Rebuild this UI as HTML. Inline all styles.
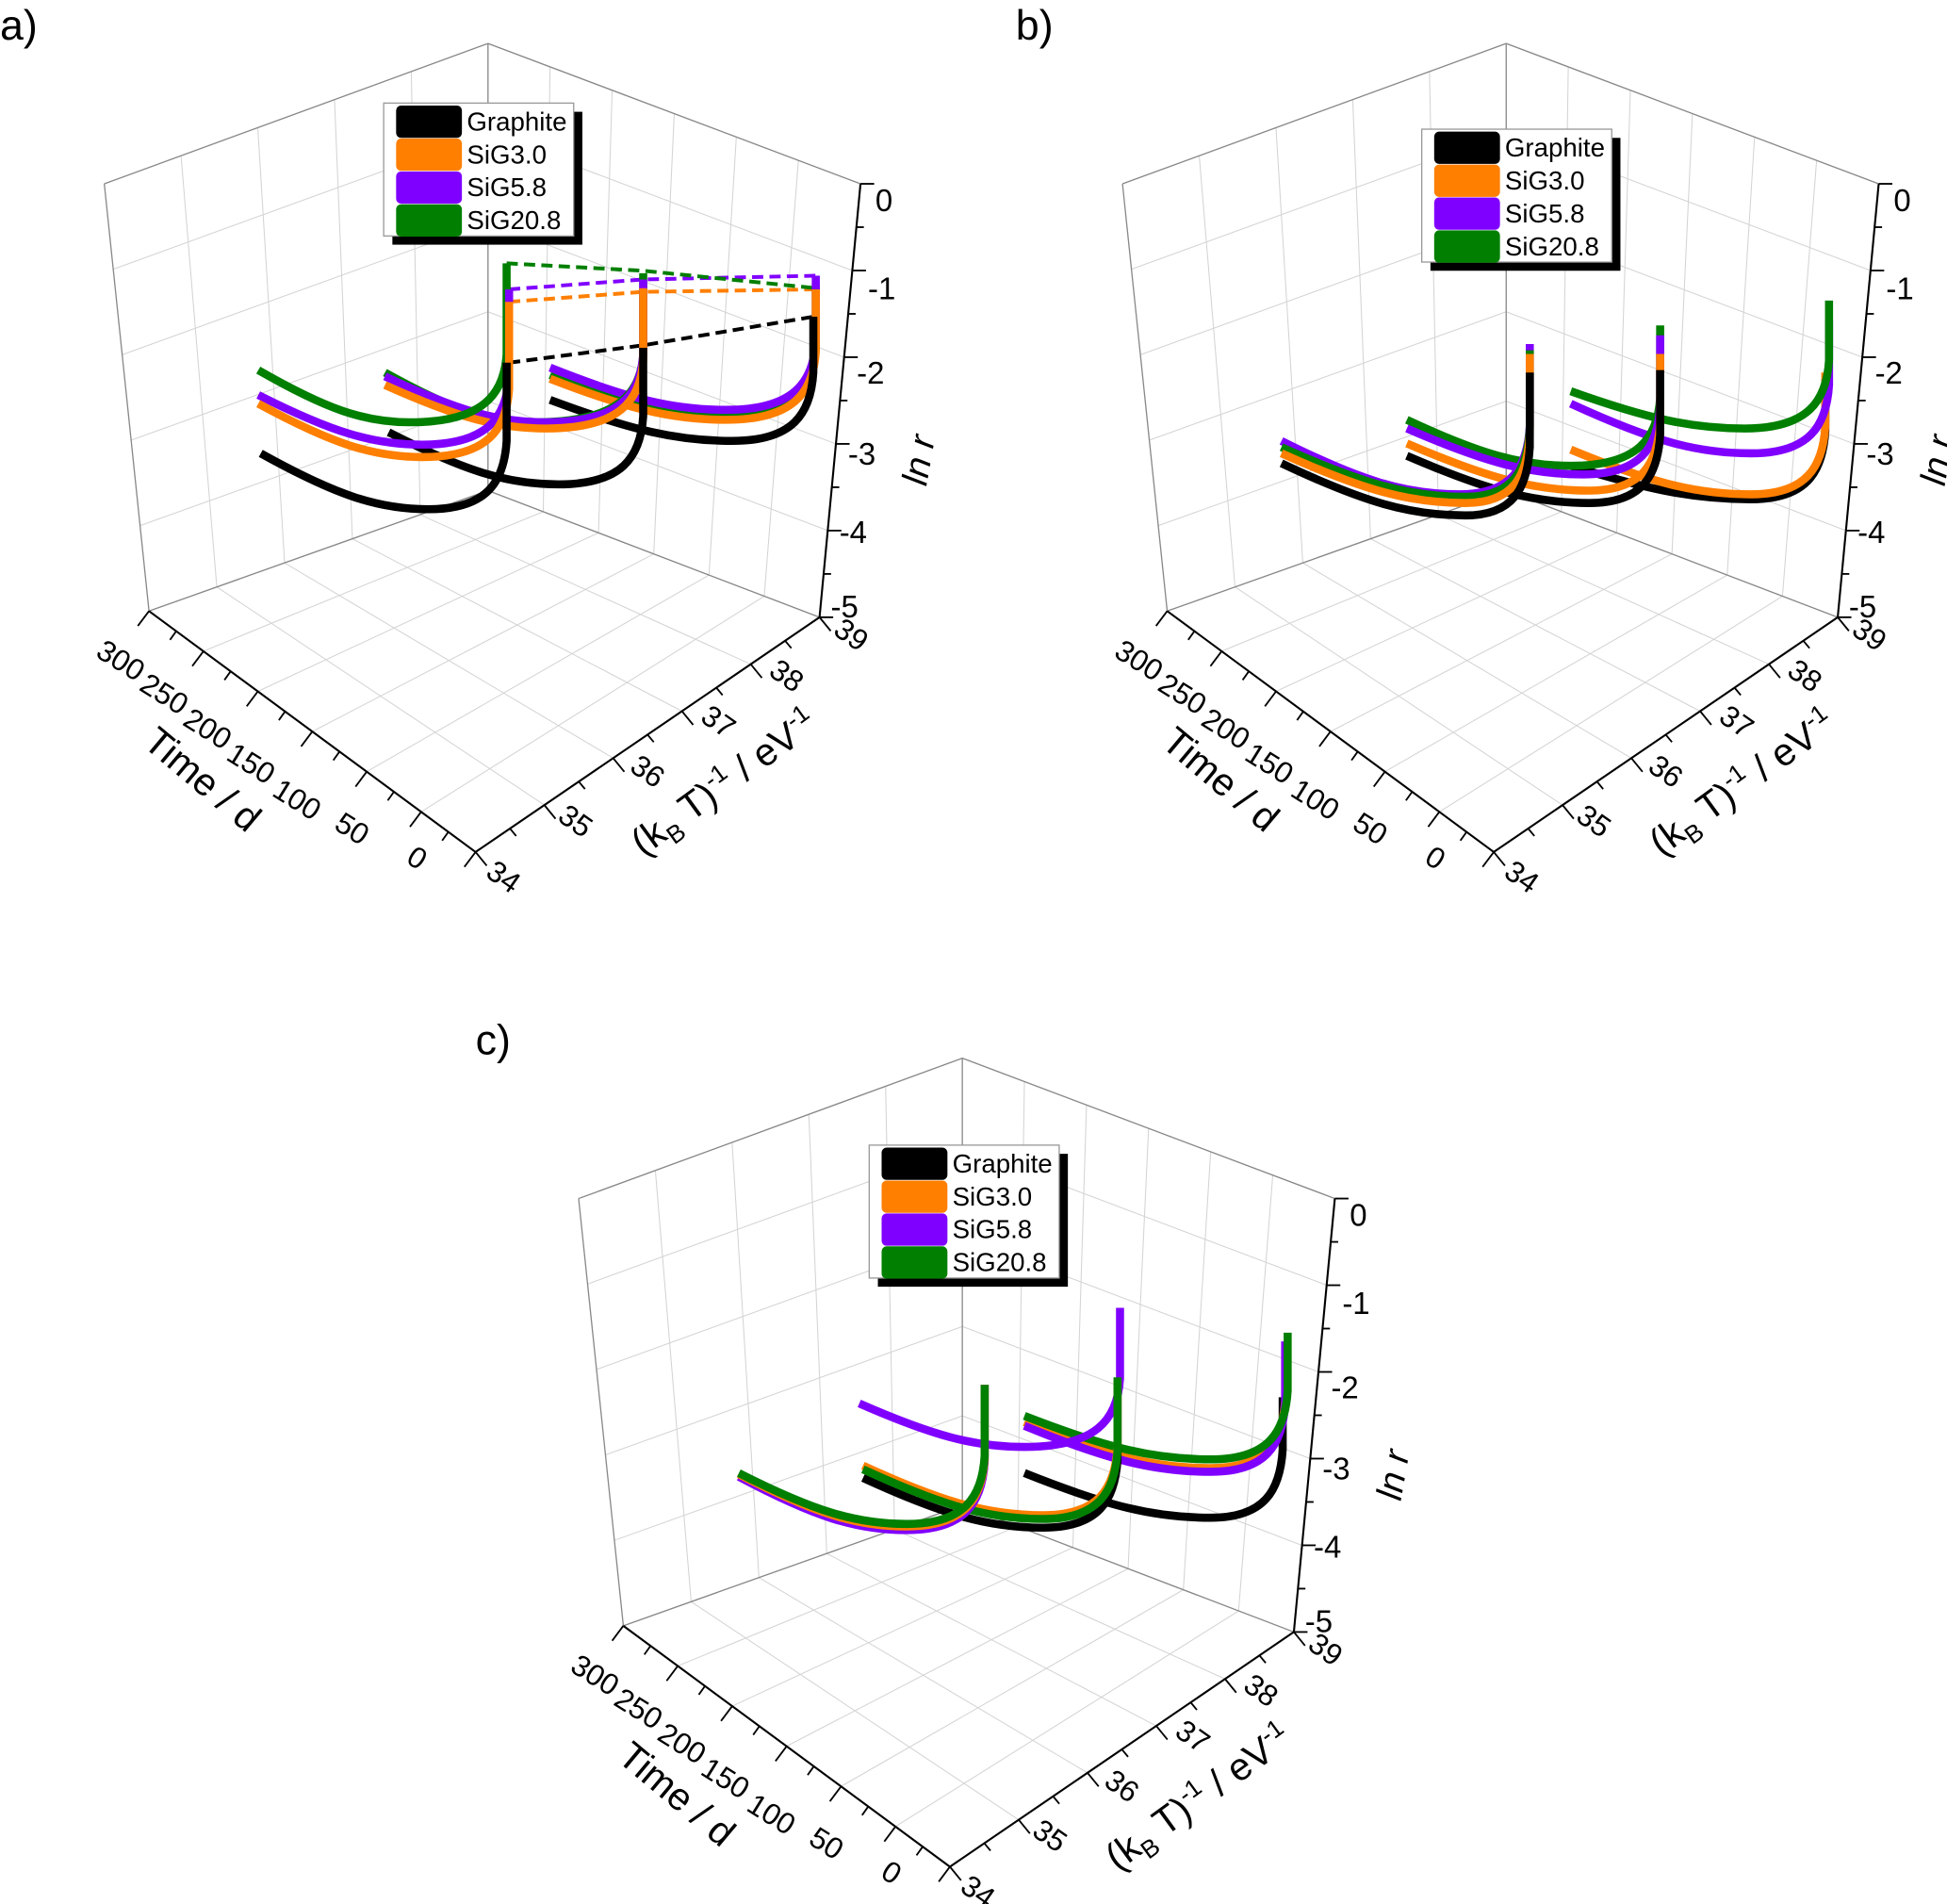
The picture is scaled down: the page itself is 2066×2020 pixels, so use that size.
<!DOCTYPE html>
<html><head><meta charset="utf-8"><style>
html,body{margin:0;padding:0;background:#fff}
svg{display:block}
text{font-family:"Liberation Sans",Arial,sans-serif;fill:#000}
</style></head><body>
<svg id="s" width="2066" height="2020" viewBox="0 0 1568 1533" preserveAspectRatio="none" xmlns="http://www.w3.org/2000/svg">
<text x="0" y="32" font-size="34">a)</text>
<text x="818" y="32" font-size="34">b)</text>
<text x="383" y="849" font-size="34">c)</text>
</svg>
<script>
const S=document.getElementById('s');const NS='http://www.w3.org/2000/svg';
function el(t,a,txt){const e=document.createElementNS(NS,t);for(const k in a)e.setAttribute(k,a[k]);if(txt!==undefined)e.textContent=txt;S.appendChild(e);return e;}
const C={k:'#000',o:'#ff7f00',p:'#8000ff',g:'#007f00'};
function panel(dx,dy,curves,dashes,leg){
 const B={'00':[383,686],'10':[120,492],'01':[660,497],'11':[393,395]};
 const T={'00':[381,340],'10':[84,148],'01':[693,148],'11':[393,35]};
 function P(t,x,z){let r=[0,0];for(const a of [0,1])for(const b of [0,1]){const wb=(a?t:1-t)*(b?x:1-x);const k=''+a+b;r[0]+=wb*((1-z)*B[k][0]+z*T[k][0]);r[1]+=wb*((1-z)*B[k][1]+z*T[k][1]);}return [r[0]+dx,r[1]+dy];}
 function L(p,q,st,w){el('line',{x1:p[0],y1:p[1],x2:q[0],y2:q[1],stroke:st,'stroke-width':w});}
 const g='#d4d4d4';
 for(let i=0;i<=5;i++){const z=i/5;L(P(1,0,z),P(1,1,z),g,0.8);L(P(0,1,z),P(1,1,z),g,0.8);}
 for(let i=1;i<5;i++){const x=i/5;L(P(1,x,0),P(1,x,1),g,0.8);L(P(0,x,0),P(1,x,0),g,0.8);}
 for(let i=1;i<6;i++){const t=i/6;L(P(t,1,0),P(t,1,1),g,0.8);L(P(t,0,0),P(t,1,0),g,0.8);}
 const e='#888';
 L(P(1,0,0),P(1,0,1),e,1);L(P(1,0,1),P(1,1,1),e,1);L(P(1,1,1),P(0,1,1),e,1);L(P(1,1,0),P(1,1,1),e,1);
 L(P(1,0,0),P(1,1,0),e,1);L(P(0,1,0),P(1,1,0),e,1);
 L(P(0,1,0),P(0,1,1),'#000',1.6);L(P(1,0,0),P(0,0,0),'#000',1.6);L(P(0,0,0),P(0,1,0),'#000',1.6);
 for(let i=0;i<=10;i++){const z=i/10,p=P(0,1,z);L(p,[p[0]+(i%2?6:11),p[1]],'#000',1.4);}
 for(let i=0;i<=12;i++){const t=i/12,p=P(t,0,0);L(p,[p[0]-(i%2?5:9),p[1]+(i%2?7:12)],'#000',1.4);}
 for(let i=0;i<=10;i++){const x=i/10,p=P(0,x,0);L(p,[p[0]+(i%2?5:9),p[1]+(i%2?6:11)],'#000',1.4);}
 const zl=[['0',705,170],['-1',699,241],['-2',690,309],['-3',683,374],['-4',676,437],['-5',669,497]];
 zl.forEach(a=>el('text',{x:a[1]+dx,y:a[2]+dy,'font-size':25},a[0]));
 el('text',{x:0,y:0,'font-size':29,'font-style':'italic',transform:`translate(${746+dx},${392+dy}) rotate(-80)`},'ln r');
 const tl=[['300',76,528],['250',111,555],['200',146,583],['150',181,611],['100',218,640],['50',268,667],['0',326,694]];
 tl.forEach(a=>el('text',{x:0,y:0,'font-size':24,transform:`translate(${a[1]+dx},${a[2]+dy}) rotate(32)`},a[0]));
 el('text',{x:0,y:0,'font-size':31,transform:`translate(${114+dx},${600+dy}) rotate(40)`},'Time / d');
 const xl=[['34',390,705],['35',448,660],['36',506,620],['37',563,580],['38',618,543],['39',670,510]];
 xl.forEach(a=>el('text',{x:0,y:0,'font-size':24,transform:`translate(${a[1]+dx},${a[2]+dy}) rotate(35)`},a[0]));
 const xt=el('text',{x:0,y:0,'font-size':31,transform:`translate(${518+dx},${690+dy}) rotate(-36)`});
 xt.innerHTML='(k<tspan font-size="20" dy="7">B</tspan><tspan dy="-7"> T)</tspan><tspan font-size="20" dy="-12">-1</tspan><tspan dy="12"> / eV</tspan><tspan font-size="20" dy="-12">-1</tspan>';
 dashes.forEach(d=>el('polyline',{points:d[1].map(p=>(p[0]+dx)+','+(p[1]+dy)).join(' '),fill:'none',stroke:C[d[0]],'stroke-width':3,'stroke-dasharray':'9,5'}));
 curves.forEach(c=>{const [col,sx,sy,mx,my,xs,top]=c;
  const X=v=>v+dx,Y=v=>v+dy;
  const d=`M${X(sx)},${Y(sy)} C${X(sx+0.45*(mx-sx))},${Y(sy+0.75*(my-sy))} ${X(mx-0.3*(mx-sx))},${Y(my)} ${X(mx)},${Y(my)} C${X(mx+0.75*(xs-mx))},${Y(my)} ${X(xs-2)},${Y(my-22)} ${X(xs)},${Y(my-55)} L${X(xs)},${Y(top)}`;
  el('path',{d:d,fill:'none',stroke:C[col],'stroke-width':6.5});});
 const lx=leg[0]+dx,ly=leg[1]+dy;
 el('rect',{x:lx+7,y:ly+7,width:153,height:107,fill:'#000'});
 el('rect',{x:lx,y:ly,width:153,height:107,fill:'#fff',stroke:'#999','stroke-width':1});
 [['k','Graphite'],['o','SiG3.0'],['p','SiG5.8'],['g','SiG20.8']].forEach((a,i)=>{
  el('rect',{x:lx+10,y:ly+2+i*26.5,width:53,height:26,fill:C[a[0]],rx:4});
  el('text',{x:lx+67,y:ly+22+i*26.5,'font-size':21},a[1]);});
}
panel(0,0,[
 ['g',443,302,585,335,657,228],['p',443,296,585,330,657,222],['o',443,305,585,338,657,233],['k',443,322,590,355,655,255],
 ['g',310,300,430,340,518,220],['p',310,303,440,340,518,225],['o',310,310,440,345,518,232],['k',313,348,450,390,518,280],
 ['g',208,298,330,340,408,212],['p',208,318,340,358,410,233],['o',208,325,340,368,410,243],['k',210,365,345,410,408,292]
],[['k',[[410,292],[518,278],[655,255]]],['o',[[410,243],[518,235],[657,233]]],['p',[[410,233],[518,225],[657,222]]],['g',[[408,212],[518,218],[657,232]]]],[309,83]);
panel(820,0,[
 ['k',445,375,590,402,650,305],['o',445,362,590,398,650,300],['p',445,325,590,365,653,258],['g',445,315,585,345,653,242],
 ['g',313,338,445,375,517,262],['p',313,345,455,382,517,270],['o',313,357,460,395,517,285],['k',313,367,460,405,517,298],
 ['p',212,355,355,398,412,277],['g',212,360,360,400,412,282],['o',212,365,360,405,412,285],['k',212,373,360,415,412,300]
],[],[325,104]);
panel(382,817,[
 ['k',443,369,593,405,651,308],['o',443,328,593,365,653,268],['p',443,331,593,368,653,263],['g',443,323,593,358,655,256],
 ['p',310,313,443,348,520,236],['k',313,373,458,413,518,305],['o',313,363,458,403,518,295],['g',313,366,458,406,518,292],
 ['p',213,372,348,415,411,298],['o',213,370,348,412,411,298],['g',213,369,348,410,411,298]
],[],[318,105]);
</script>
</body></html>
